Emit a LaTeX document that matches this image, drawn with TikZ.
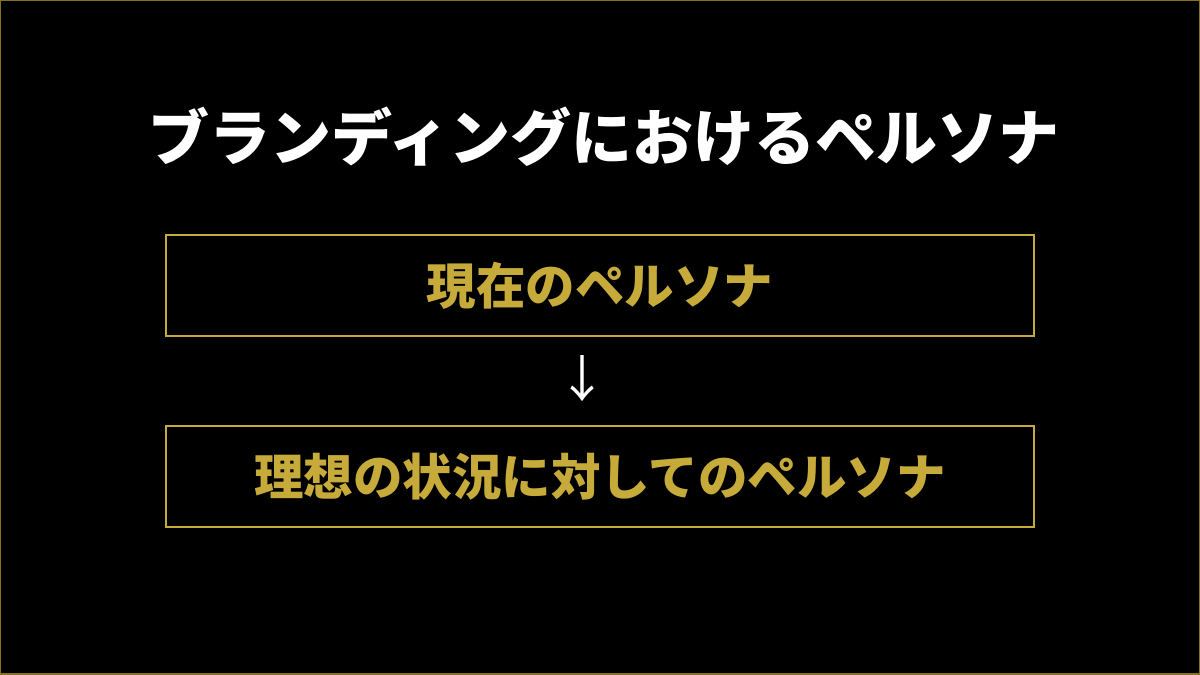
\documentclass[tikz,border=0pt]{standalone}
\usepackage{fontspec}
\newfontfamily\jpfont{Noto Sans CJK JP}
\usetikzlibrary{positioning}

\definecolor{gold}{RGB}{198,170,58}
\definecolor{rimgold}{RGB}{135,112,32}

\begin{document}
\begin{tikzpicture}[x=1bp,y=1bp]

	\tikzset{title/.style={text=white,font=\jpfont\bfseries\fontsize{61bp}{61bp}\selectfont,inner sep=0pt},
	         stagebox/.style={draw=gold,line width=2bp,minimum width=868bp,minimum height=101bp,inner sep=0pt,
	                          text=gold,font=\jpfont\bfseries\fontsize{49.5bp}{49.5bp}\selectfont},
	         downmark/.style={text=white,font=\jpfont\fontsize{50bp}{50bp}\selectfont,inner sep=0pt}}

	    \fill[black] (0,0) rectangle (1200,675);
	    \draw[rimgold,line width=1.5bp] (0.75,0.75) rectangle (1199.25,674.25);
	    \useasboundingbox (0,0) rectangle (1200,675);

	    \node[title] (head) at (604,538) {ブランディングにおけるペルソナ};

	    \node[stagebox] (now) at (600,389.5) {現在のペルソナ};
	    \node[stagebox] (ideal) at (600,198) {理想の状況に対してのペルソナ};

	    \node[downmark] (step) at (582,296) {↓};

\end{tikzpicture}
\end{document}
